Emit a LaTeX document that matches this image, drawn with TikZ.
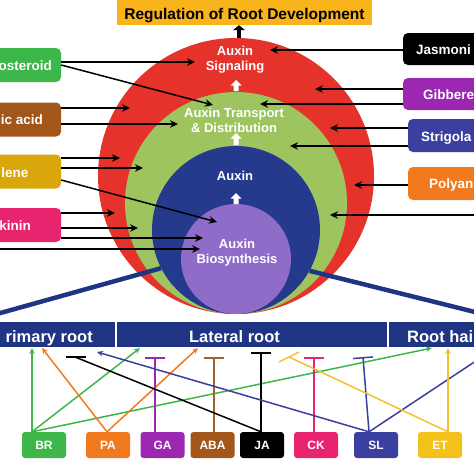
\documentclass[tikz,border=0pt]{standalone}
\usepackage{fontspec}
\setmainfont{Liberation Sans}
\usetikzlibrary{arrows.meta}
\newcommand\myfs[1]{\fontsize{#1}{#1}\selectfont\bfseries}
\definecolor{cRed}{HTML}{E5322A}
\definecolor{cGreen}{HTML}{9DC45F}
\definecolor{cNavy}{HTML}{253A8C}
\definecolor{cPurple}{HTML}{8E6CC8}
\definecolor{cTitle}{HTML}{F9B31B}
\definecolor{cBR}{HTML}{3DB64A}
\definecolor{cABA}{HTML}{A3561A}
\definecolor{cET}{HTML}{D9A60C}
\definecolor{cETb}{HTML}{F2C21A}
\definecolor{cCK}{HTML}{E8246E}
\definecolor{cGA}{HTML}{9C27B0}
\definecolor{cSL}{HTML}{3A3FA0}
\definecolor{cPA}{HTML}{F27A1E}
\definecolor{cBar}{HTML}{1F3583}
\definecolor{cABAl}{HTML}{A0622D}
\definecolor{cETl}{HTML}{F2C12E}
\begin{document}
\begin{tikzpicture}[x=1pt,y=-1pt,
  arr/.style={line width=1.5pt, -{Stealth[length=8pt,width=7.5pt]}},
  sidebox/.style={rectangle, rounded corners=5pt, inner sep=0pt, minimum height=34pt},
  sidetext/.style={text=white, font={\myfs{13.5}}, inner sep=0pt},
  circtext/.style={text=white, font={\fontsize{13}{15}\selectfont\bfseries}, align=center, inner sep=0pt},
  botbox/.style={rectangle, rounded corners=3pt, minimum width=44pt, minimum height=26pt, inner sep=0pt, text=white, font={\myfs{12}}},
  barbox/.style={rectangle, fill=cBar, inner sep=0pt, minimum height=25pt},
  bartext/.style={text=white, font={\myfs{16.5}}, inner sep=0pt},
  cline/.style={line width=1.5pt},
  act/.style={cline, -{Stealth[length=6pt,width=5.5pt]}},
  inh/.style={cline, -{Bar[width=20pt]}},
  blockarr/.style={fill=white, draw=none},
  circ/.style={circle, inner sep=0pt, draw=none},
  navyline/.style={draw=cBar, line width=4.5pt}
]
\useasboundingbox (0,0) rectangle (474,474);
\clip (0,0) rectangle (474,474);
\fill[white] (0,0) rectangle (474,474);

% title
\node[rectangle, fill=cTitle, minimum width=255pt, minimum height=27pt, inner sep=0pt] (title) at (244.5,11.5) {};
\node[font={\myfs{15.5}}, inner sep=0pt, anchor=base] (titletext) at (244.5,19) {Regulation of Root Development};

% circles
\node[circ, fill=cRed, minimum size=276pt] (red) at (236,176) {};
\node[circ, fill=cGreen, minimum size=222pt] (green) at (236,203) {};
\node[circ, fill=cNavy, minimum size=168pt] (blue) at (236,230) {};
\node[circ, fill=cPurple, minimum size=110pt] (purple) at (236,259) {};

\node[circtext] (tSig) at (235,60) {Auxin\\Signaling};
\node[circtext] (tTra) at (234,120.5) {Auxin Transport\\\& Distribution};
\node[circtext] (tAux) at (235,176) {Auxin};
\node[circtext] (tBio) at (237,252.5) {Auxin\\Biosynthesis};

% white block arrows
\foreach \yt/\yb in {80/91, 133/145, 193/204}{
  \fill[blockarr] (236,\yt) -- (241.5,\yt+5.5) -- (238.5,\yt+5.5) -- (238.5,\yb) -- (233.5,\yb) -- (233.5,\yt+5.5) -- (230.5,\yt+5.5) -- cycle;
}

% arrow to title
\draw[line width=3.5pt, -{Triangle[length=5pt,width=12pt]}] ([xshift=3pt]red.north) -- ([xshift=3pt]red.north |- title.south);

% left boxes
\node[sidebox, fill=cBR, minimum width=121pt] (bBR) at (0.5,65) {};
\node[sidebox, fill=cABA, minimum width=121pt] (bABA) at (0.5,119.5) {};
\node[sidebox, fill=cET, minimum width=121pt] (bET) at (0.5,171.5) {};
\node[sidebox, fill=cCK, minimum width=121pt] (bCK) at (0.5,225) {};
\node[sidetext, anchor=base east] (tBR) at (52,70) {osteroid};
\node[sidetext, anchor=base east] (tABA) at (43,124.5) {ic acid};
\node[sidetext, anchor=base east] (tET) at (28.5,177) {lene};
\node[sidetext, anchor=base east] (tCK) at (31,230.5) {kinin};

% right boxes
\node[sidebox, fill=black, minimum width=137pt, minimum height=32pt] (bJA) at (471.5,49) {};
\node[sidebox, fill=cGA, minimum width=137pt, minimum height=32pt] (bGA) at (471.5,94) {};
\node[sidebox, fill=cSL, minimum width=132pt, minimum height=33pt] (bSL) at (474,135.5) {};
\node[sidebox, fill=cPA, minimum width=132pt, minimum height=33pt] (bPA) at (474,183.5) {};
\node[sidetext, anchor=base west] (tJA) at (416,54.5) {Jasmoni};
\node[sidetext, anchor=base west] (tGA) at (423,99.5) {Gibbere};
\node[sidetext, anchor=base west] (tSL) at (421,141) {Strigola};
\node[sidetext, anchor=base west] (tPA) at (429,188) {Polyan};

% left arrow targets
\coordinate (aBR1) at (195,62);
\coordinate (aBR2) at (213,105);
\coordinate (aAB1) at (130,108);
\coordinate (aAB2) at (178,124);
\coordinate (aET1) at (120,158);
\coordinate (aET2) at (143,168);
\coordinate (aET3) at (217,222);
\coordinate (aCK1) at (115,213);
\coordinate (aCK2) at (138,228);
\coordinate (aCK3) at (203,238);
\coordinate (aX0) at (-5,249);
\coordinate (aX) at (200,249);
\draw[arr] (bBR.east |- aBR1) -- (aBR1);
\draw[arr] (bBR.east) -- (aBR2);
\draw[arr] (bABA.east |- aAB1) -- (aAB1);
\draw[arr] (bABA.east |- aAB2) -- (aAB2);
\draw[arr] (bET.east |- aET1) -- (aET1);
\draw[arr] (bET.east |- aET2) -- (aET2);
\draw[arr] ([yshift=-8.5pt]bET.east) -- (aET3);
\draw[arr] (bCK.east |- aCK1) -- (aCK1);
\draw[arr] (bCK.east |- aCK2) -- (aCK2);
\draw[arr] (bCK.east |- aCK3) -- (aCK3);
\draw[arr] (aX0) -- (aX);

% right arrow targets
\coordinate (aJA) at (270,50);
\coordinate (aGA1) at (315,89);
\coordinate (aGA2) at (260,104);
\coordinate (aSL1) at (330,128);
\coordinate (aSL2) at (290,146);
\coordinate (aPA1) at (354,185);
\coordinate (aY0) at (480,215);
\coordinate (aY) at (330,215);
\draw[arr] (bJA.west |- aJA) -- (aJA);
\draw[arr] (bGA.west |- aGA1) -- (aGA1);
\draw[arr] (bGA.west |- aGA2) -- (aGA2);
\draw[arr] (bSL.west |- aSL1) -- (aSL1);
\draw[arr] (bSL.west |- aSL2) -- (aSL2);
\draw[arr] (bPA.west |- aPA1) -- (aPA1);
\draw[arr] (aY0) -- (aY);

% navy lines to bar
\coordinate (nL) at (-5,314.5);
\coordinate (nR) at (479,313);
\draw[navyline] (blue.207) -- (nL);
\draw[navyline] (blue.331) -- (nR);

% bar
\node[barbox, minimum width=135pt] (barP) at (47.5,334.5) {};
\node[barbox, minimum width=270pt] (barL) at (252,334.5) {};
\node[barbox, minimum width=111pt] (barH) at (444.5,334.5) {};
\node[bartext, anchor=base east] (tP) at (93,342) {rimary root};
\node[bartext, anchor=base] (tL) at (234.5,342) {Lateral root};
\node[bartext, anchor=base west] (tH) at (407,342) {Root hai};

% bottom boxes
\node[botbox, fill=cBR] (nBR) at (44,445) {BR};
\node[botbox, fill=cPA] (nPA) at (108,445) {PA};
\node[botbox, fill=cGA] (nGA) at (162.5,445) {GA};
\node[botbox, fill=cABA] (nABA) at (212.5,445) {ABA};
\node[botbox, fill=black] (nJA) at (262,445) {JA};
\node[botbox, fill=cCK] (nCK) at (316,445) {CK};
\node[botbox, fill=cSL] (nSL) at (376,445) {SL};
\node[botbox, fill=cETb] (nET) at (440,445) {ET};

% bottom targets
\coordinate (pBR1) at (32,348);
\coordinate (pBR2) at (140,348);
\coordinate (pBR3) at (432,348);
\coordinate (pPA1) at (42,348);
\coordinate (pPA2) at (198,348);
\coordinate (pGA) at (155,357);
\coordinate (pAB) at (214,357);
\coordinate (pJA1) at (261,352);
\coordinate (pJA2) at (75,357);
\coordinate (pCK) at (314,357);
\coordinate (pSL1) at (363,357);
\coordinate (pSL2) at (97,352);
\coordinate (pSL3) at (497,347);
\coordinate (pET1) at (448,348);
\coordinate (pET2) at (289,357);

% bottom connectors
\draw[act, cBR] (nBR.north -| pBR1) -- (pBR1);
\draw[act, cBR] (nBR.north -| pBR1) -- (pBR2);
\draw[act, cBR] (nBR.north -| pBR1) -- (pBR3);
\draw[act, cPA] ([xshift=-1pt]nPA.north) -- (pPA1);
\draw[act, cPA] ([xshift=-1pt]nPA.north) -- (pPA2);
\draw[inh, cGA] (nGA.north -| pGA) -- (pGA);
\draw[inh, cABAl] (nABA.north -| pAB) -- (pAB);
\draw[inh, black] (nJA.north -| pJA1) -- (pJA1);
\draw[cline, black] (nJA.north -| pJA1) -- (pJA2);
\draw[cline, black] ([xshift=-9pt]pJA2) -- ([xshift=11pt]pJA2);
\draw[inh, cCK] (nCK.north -| pCK) -- (pCK);
\draw[inh, cSL] ([xshift=-7pt]nSL.north) -- (pSL1);
\draw[act, cSL] ([xshift=-7pt]nSL.north) -- (pSL2);
\draw[act, cSL] ([xshift=-7pt]nSL.north) -- (pSL3);
\draw[act, cETl] (nET.north -| pET1) -- (pET1);
\draw[cline, cETl] (nET.north -| pET1) -- (pET2);
\draw[cline, cETl] ([shift={(-10pt,-5pt)}]pET2) -- ([shift={(10pt,5pt)}]pET2);
\end{tikzpicture}
\end{document}
